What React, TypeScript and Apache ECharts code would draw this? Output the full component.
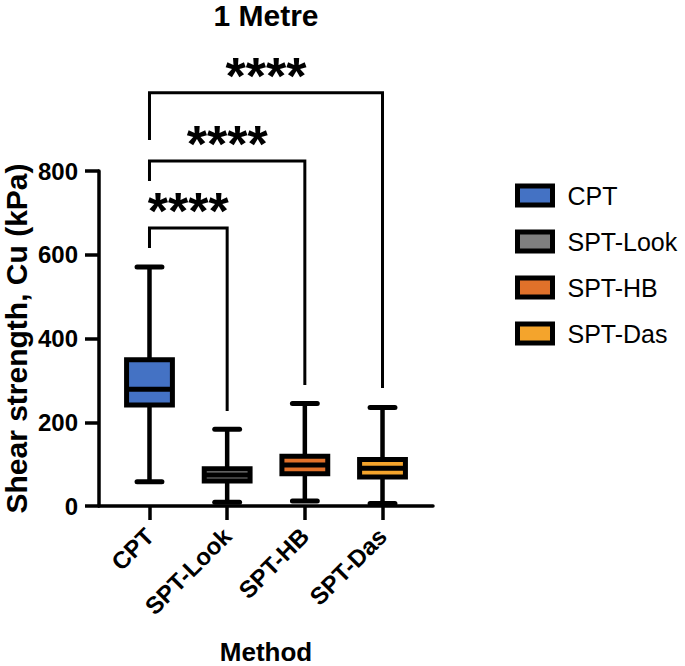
import React, { useEffect, useRef } from "react";
import * as echarts from "echarts";

const categories = ["CPT", "SPT-Look", "SPT-HB", "SPT-Das"];
const colors = ["#4472C4", "#7F7F7F", "#E0712A", "#F4A42C"];
const minValues = [58, 9, 12, 6];
const q1Values = [241, 60, 77, 69];
const medianValues = [279, 74, 98, 90];
const q3Values = [349, 89, 119, 111];
const maxValues = [571, 183, 245, 235];

const bracketFrom = [1, 1, 1];
const bracketTo = [2, 3, 4];
const bracketTop = [664, 824, 987];
const bracketLeftEnd = [616, 776, 874];
const bracketRightEnd = [227, 289, 282];
const bracketLabels = ["****", "****", "****"];

const yTicks = [0, 200, 400, 600, 800];

const FONT = "'Liberation Sans', Arial, sans-serif";

export default function App() {
  const ref = useRef<HTMLDivElement>(null);
  useEffect(() => {
    if (!ref.current) return;
    const chart = echarts.init(ref.current, undefined, { renderer: "svg" });

    const boxSeries = categories.map((name, i) => ({
      name,
      type: "custom",
      clip: false,
      itemStyle: { color: colors[i] },
      encode: { x: 0, y: [1, 2, 3, 4, 5] },
      data: [[i + 1, minValues[i], q1Values[i], medianValues[i], q3Values[i], maxValues[i]]],
      renderItem: (params: any, api: any) => {
        const x = api.value(0);
        const pMin = api.coord([x, api.value(1)]);
        const pQ1 = api.coord([x, api.value(2)]);
        const pMed = api.coord([x, api.value(3)]);
        const pQ3 = api.coord([x, api.value(4)]);
        const pMax = api.coord([x, api.value(5)]);
        const cx = pMin[0];
        const halfBox = api.size([0.59, 0])[0] / 2;
        const halfCap = api.size([0.32, 0])[0] / 2;
        const black = "#000";
        return {
          type: "group",
          children: [
            { type: "line", shape: { x1: cx, y1: pMax[1], x2: cx, y2: pQ3[1] }, style: { stroke: black, lineWidth: 4.5 } },
            { type: "line", shape: { x1: cx, y1: pQ1[1], x2: cx, y2: pMin[1] }, style: { stroke: black, lineWidth: 4.5 } },
            { type: "line", shape: { x1: cx - halfCap, y1: pMax[1], x2: cx + halfCap, y2: pMax[1] }, style: { stroke: black, lineWidth: 5, lineCap: "round" } },
            { type: "line", shape: { x1: cx - halfCap, y1: pMin[1], x2: cx + halfCap, y2: pMin[1] }, style: { stroke: black, lineWidth: 5, lineCap: "round" } },
            {
              type: "rect",
              shape: { x: cx - halfBox, y: pQ3[1], width: halfBox * 2, height: pQ1[1] - pQ3[1] },
              style: { fill: colors[i], stroke: black, lineWidth: 5 },
            },
            { type: "line", shape: { x1: cx - halfBox, y1: pMed[1], x2: cx + halfBox, y2: pMed[1] }, style: { stroke: black, lineWidth: 5 } },
          ],
        };
      },
    }));

    const bracketSeries = {
      name: "brackets",
      type: "custom",
      clip: false,
      silent: true,
      encode: { x: [0, 1], y: [2] },
      data: bracketFrom.map((f, k) => [f, bracketTo[k], bracketTop[k], bracketLeftEnd[k], bracketRightEnd[k]]),
      renderItem: (params: any, api: any) => {
        const k = params.dataIndex;
        const pL = api.coord([api.value(0), api.value(2)]);
        const pR = api.coord([api.value(1), api.value(2)]);
        const pLE = api.coord([api.value(0), api.value(3)]);
        const pRE = api.coord([api.value(1), api.value(4)]);
        return {
          type: "group",
          children: [
            {
              type: "polyline",
              shape: { points: [[pL[0], pLE[1]], [pL[0], pL[1]], [pR[0], pR[1]], [pR[0], pRE[1]]] },
              style: { stroke: "#000", lineWidth: 3, fill: "none" },
            },
            {
              type: "text",
              style: {
                text: bracketLabels[k],
                x: (pL[0] + pR[0]) / 2,
                y: pL[1] - 17,
                textAlign: "center",
                textVerticalAlign: "middle",
                font: "bold 52px " + FONT,
                fill: "#000",
              },
            },
          ],
        };
      },
    };

    chart.setOption({
      animation: false,
      graphic: [
        {
          type: "text",
          x: 266,
          y: 0,
          style: {
            text: "1 Metre",
            textAlign: "center",
            textVerticalAlign: "top",
            font: "bold 30px " + FONT,
            fill: "#000",
          },
        },
      ],
      legend: {
        data: categories,
        orient: "vertical",
        left: 510,
        top: 178,
        icon: "rect",
        itemWidth: 35,
        itemHeight: 19,
        itemGap: 21,
        itemStyle: { borderColor: "#000", borderWidth: 5 },
        textStyle: { fontSize: 25, color: "#000", fontFamily: FONT, padding: [0, 0, 0, 10] },
      },
      grid: { left: 99, right: 252, top: 171, bottom: 160, containLabel: false, outerBoundsMode: "none" },
      xAxis: {
        type: "value",
        min: 0.35,
        max: 4.65,
        name: "Method",
        nameLocation: "middle",
        nameGap: 133,
        nameTextStyle: { fontSize: 26, fontWeight: "bold", color: "#000", fontFamily: FONT },
        axisLine: { lineStyle: { color: "#000", width: 3.5 } },
        axisTick: { customValues: [1, 2, 3, 4], length: 14, lineStyle: { color: "#000", width: 3.5 } },
        axisLabel: {
          customValues: [1, 2, 3, 4],
          rotate: 45,
          margin: 26,
          fontSize: 24,
          fontWeight: "bold",
          color: "#000",
          fontFamily: FONT,
          formatter: (v: number) => categories[Math.round(v) - 1] ?? "",
        },
        splitLine: { show: false },
      },
      yAxis: {
        type: "value",
        min: 0,
        max: 800,
        interval: 200,
        name: "Shear strength, Cu (kPa)",
        nameLocation: "middle",
        nameGap: 68,
        nameTextStyle: { fontSize: 30, fontWeight: "bold", color: "#000", fontFamily: FONT },
        axisLine: { show: true, lineStyle: { color: "#000", width: 3.5 } },
        axisTick: { show: true, length: 14, lineStyle: { color: "#000", width: 3.5 } },
        axisLabel: {
          margin: 21,
          fontSize: 24,
          fontWeight: "bold",
          color: "#000",
          fontFamily: FONT,
          customValues: yTicks,
        },
        splitLine: { show: false },
      },
      series: [...boxSeries, bracketSeries],
    });
    return () => chart.dispose();
  }, []);
  return <div ref={ref} style={{ width: 685, height: 666, position: "absolute", left: 0, top: 0 }} />;
}
